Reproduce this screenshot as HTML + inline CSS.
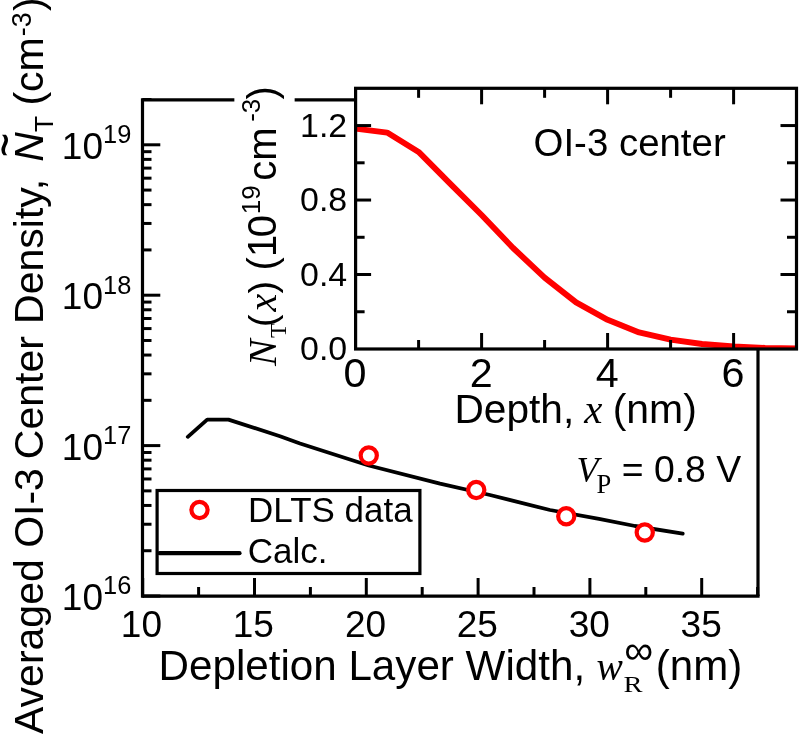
<!DOCTYPE html>
<html><head><meta charset="utf-8"><title>Figure</title>
<style>html,body{margin:0;padding:0;background:#fff}svg{display:block}</style></head>
<body><svg width="799" height="736" viewBox="0 0 799 736">
<rect width="799" height="736" fill="#fff"/>
<line x1="142.50" y1="597.70" x2="142.50" y2="98.20" stroke="#000" stroke-width="3.2" stroke-linecap="butt"/>
<line x1="142.50" y1="596.10" x2="759.60" y2="596.10" stroke="#000" stroke-width="3.2" stroke-linecap="butt"/>
<line x1="758.00" y1="596.10" x2="758.00" y2="340.00" stroke="#000" stroke-width="3.2" stroke-linecap="butt"/>
<line x1="142.50" y1="99.80" x2="234.60" y2="99.80" stroke="#000" stroke-width="3.2" stroke-linecap="butt"/>
<line x1="294.40" y1="99.80" x2="357.00" y2="99.80" stroke="#000" stroke-width="3.2" stroke-linecap="butt"/>
<line x1="142.70" y1="596.10" x2="142.70" y2="578.00" stroke="#000" stroke-width="3.0" stroke-linecap="butt"/>
<line x1="198.60" y1="596.10" x2="198.60" y2="587.00" stroke="#000" stroke-width="3.0" stroke-linecap="butt"/>
<line x1="254.50" y1="596.10" x2="254.50" y2="578.00" stroke="#000" stroke-width="3.0" stroke-linecap="butt"/>
<line x1="310.40" y1="596.10" x2="310.40" y2="587.00" stroke="#000" stroke-width="3.0" stroke-linecap="butt"/>
<line x1="366.30" y1="596.10" x2="366.30" y2="578.00" stroke="#000" stroke-width="3.0" stroke-linecap="butt"/>
<line x1="422.20" y1="596.10" x2="422.20" y2="587.00" stroke="#000" stroke-width="3.0" stroke-linecap="butt"/>
<line x1="478.10" y1="596.10" x2="478.10" y2="578.00" stroke="#000" stroke-width="3.0" stroke-linecap="butt"/>
<line x1="534.00" y1="596.10" x2="534.00" y2="587.00" stroke="#000" stroke-width="3.0" stroke-linecap="butt"/>
<line x1="589.90" y1="596.10" x2="589.90" y2="578.00" stroke="#000" stroke-width="3.0" stroke-linecap="butt"/>
<line x1="645.80" y1="596.10" x2="645.80" y2="587.00" stroke="#000" stroke-width="3.0" stroke-linecap="butt"/>
<line x1="701.70" y1="596.10" x2="701.70" y2="578.00" stroke="#000" stroke-width="3.0" stroke-linecap="butt"/>
<line x1="757.60" y1="596.10" x2="757.60" y2="587.00" stroke="#000" stroke-width="3.0" stroke-linecap="butt"/>
<line x1="142.50" y1="596.00" x2="160.30" y2="596.00" stroke="#000" stroke-width="3.0" stroke-linecap="butt"/>
<line x1="142.50" y1="550.73" x2="151.50" y2="550.73" stroke="#000" stroke-width="3.0" stroke-linecap="butt"/>
<line x1="142.50" y1="524.24" x2="151.50" y2="524.24" stroke="#000" stroke-width="3.0" stroke-linecap="butt"/>
<line x1="142.50" y1="505.45" x2="151.50" y2="505.45" stroke="#000" stroke-width="3.0" stroke-linecap="butt"/>
<line x1="142.50" y1="490.87" x2="151.50" y2="490.87" stroke="#000" stroke-width="3.0" stroke-linecap="butt"/>
<line x1="142.50" y1="478.97" x2="151.50" y2="478.97" stroke="#000" stroke-width="3.0" stroke-linecap="butt"/>
<line x1="142.50" y1="468.90" x2="151.50" y2="468.90" stroke="#000" stroke-width="3.0" stroke-linecap="butt"/>
<line x1="142.50" y1="460.18" x2="151.50" y2="460.18" stroke="#000" stroke-width="3.0" stroke-linecap="butt"/>
<line x1="142.50" y1="452.48" x2="151.50" y2="452.48" stroke="#000" stroke-width="3.0" stroke-linecap="butt"/>
<line x1="142.50" y1="445.60" x2="160.30" y2="445.60" stroke="#000" stroke-width="3.0" stroke-linecap="butt"/>
<line x1="142.50" y1="400.33" x2="151.50" y2="400.33" stroke="#000" stroke-width="3.0" stroke-linecap="butt"/>
<line x1="142.50" y1="373.84" x2="151.50" y2="373.84" stroke="#000" stroke-width="3.0" stroke-linecap="butt"/>
<line x1="142.50" y1="355.05" x2="151.50" y2="355.05" stroke="#000" stroke-width="3.0" stroke-linecap="butt"/>
<line x1="142.50" y1="340.47" x2="151.50" y2="340.47" stroke="#000" stroke-width="3.0" stroke-linecap="butt"/>
<line x1="142.50" y1="328.57" x2="151.50" y2="328.57" stroke="#000" stroke-width="3.0" stroke-linecap="butt"/>
<line x1="142.50" y1="318.50" x2="151.50" y2="318.50" stroke="#000" stroke-width="3.0" stroke-linecap="butt"/>
<line x1="142.50" y1="309.78" x2="151.50" y2="309.78" stroke="#000" stroke-width="3.0" stroke-linecap="butt"/>
<line x1="142.50" y1="302.08" x2="151.50" y2="302.08" stroke="#000" stroke-width="3.0" stroke-linecap="butt"/>
<line x1="142.50" y1="295.20" x2="160.30" y2="295.20" stroke="#000" stroke-width="3.0" stroke-linecap="butt"/>
<line x1="142.50" y1="249.93" x2="151.50" y2="249.93" stroke="#000" stroke-width="3.0" stroke-linecap="butt"/>
<line x1="142.50" y1="223.44" x2="151.50" y2="223.44" stroke="#000" stroke-width="3.0" stroke-linecap="butt"/>
<line x1="142.50" y1="204.65" x2="151.50" y2="204.65" stroke="#000" stroke-width="3.0" stroke-linecap="butt"/>
<line x1="142.50" y1="190.07" x2="151.50" y2="190.07" stroke="#000" stroke-width="3.0" stroke-linecap="butt"/>
<line x1="142.50" y1="178.17" x2="151.50" y2="178.17" stroke="#000" stroke-width="3.0" stroke-linecap="butt"/>
<line x1="142.50" y1="168.10" x2="151.50" y2="168.10" stroke="#000" stroke-width="3.0" stroke-linecap="butt"/>
<line x1="142.50" y1="159.38" x2="151.50" y2="159.38" stroke="#000" stroke-width="3.0" stroke-linecap="butt"/>
<line x1="142.50" y1="151.68" x2="151.50" y2="151.68" stroke="#000" stroke-width="3.0" stroke-linecap="butt"/>
<line x1="142.50" y1="144.80" x2="160.30" y2="144.80" stroke="#000" stroke-width="3.0" stroke-linecap="butt"/>
<line x1="142.50" y1="99.53" x2="151.50" y2="99.53" stroke="#000" stroke-width="3.0" stroke-linecap="butt"/>
<polyline fill="none" stroke="#000" stroke-width="3.8" stroke-linejoin="round" stroke-linecap="round" points="187.8,436.8 207.2,419.6 228.5,419.6 280.0,436.2 300.0,443.5 368.7,465.5 440.0,483.7 490.0,495.0 550.0,510.0 599.0,518.8 635.0,526.0 682.7,533.7"/>
<circle cx="368.75" cy="455.5" r="8.1" fill="#fff" stroke="#f00" stroke-width="4.2"/>
<circle cx="476.25" cy="490" r="8.1" fill="#fff" stroke="#f00" stroke-width="4.2"/>
<circle cx="566.25" cy="516.25" r="8.1" fill="#fff" stroke="#f00" stroke-width="4.2"/>
<circle cx="644.75" cy="532.5" r="8.1" fill="#fff" stroke="#f00" stroke-width="4.2"/>
<rect x="157.1" y="490.5" width="262.8" height="83" fill="#fff" stroke="#000" stroke-width="3.2"/>
<circle cx="199.5" cy="510" r="8.1" fill="#fff" stroke="#f00" stroke-width="4.2"/>
<line x1="159.50" y1="553.20" x2="239.50" y2="553.20" stroke="#000" stroke-width="4.2" stroke-linecap="round"/>
<text x="248.12" y="521.80" font-family='"Liberation Sans", sans-serif' font-size="34.96" text-anchor="start" >DLTS data</text>
<text x="247.75" y="563.10" font-family='"Liberation Sans", sans-serif' font-size="34.99" text-anchor="start" >Calc.</text>
<text x="120.87" y="636.80" font-family='"Liberation Sans", sans-serif' font-size="37.00" text-anchor="start" >10</text>
<text x="232.72" y="636.80" font-family='"Liberation Sans", sans-serif' font-size="37.00" text-anchor="start" >15</text>
<text x="344.93" y="636.80" font-family='"Liberation Sans", sans-serif' font-size="37.00" text-anchor="start" >20</text>
<text x="456.78" y="636.80" font-family='"Liberation Sans", sans-serif' font-size="37.00" text-anchor="start" >25</text>
<text x="568.76" y="636.80" font-family='"Liberation Sans", sans-serif' font-size="37.00" text-anchor="start" >30</text>
<text x="680.61" y="636.80" font-family='"Liberation Sans", sans-serif' font-size="37.00" text-anchor="start" >35</text>
<text x="61.82" y="609.90" font-family='"Liberation Sans", sans-serif' font-size="37.00" text-anchor="start" >10</text>
<text x="103.09" y="594.40" font-family='"Liberation Sans", sans-serif' font-size="25.40" text-anchor="start" >16</text>
<text x="61.82" y="459.50" font-family='"Liberation Sans", sans-serif' font-size="37.00" text-anchor="start" >10</text>
<text x="103.09" y="444.00" font-family='"Liberation Sans", sans-serif' font-size="25.40" text-anchor="start" >17</text>
<text x="61.82" y="309.10" font-family='"Liberation Sans", sans-serif' font-size="37.00" text-anchor="start" >10</text>
<text x="103.09" y="293.60" font-family='"Liberation Sans", sans-serif' font-size="25.40" text-anchor="start" >18</text>
<text x="61.82" y="158.70" font-family='"Liberation Sans", sans-serif' font-size="37.00" text-anchor="start" >10</text>
<text x="103.09" y="143.20" font-family='"Liberation Sans", sans-serif' font-size="25.40" text-anchor="start" >19</text>
<text x="158.52" y="680.30" font-family='"Liberation Sans", sans-serif' font-size="42.18" text-anchor="start" >Depletion Layer Width,</text>
<text x="596.50" y="680.00" font-family='"Liberation Serif", serif' font-size="39.50" text-anchor="start" font-style="italic" >w</text>
<text font-family='"Liberation Serif", serif' font-size="22.5" transform="translate(623.6 692.2) scale(1.27 1)">R</text>
<text x="624.30" y="664.20" font-family='"Liberation Sans", sans-serif' font-size="40.50" text-anchor="start" >∞</text>
<text x="655.87" y="680.30" font-family='"Liberation Sans", sans-serif' font-size="42.07" text-anchor="start" >(nm)</text>
<g transform="translate(43.4 734) rotate(-90)">
<text x="0" y="0" font-family='"Liberation Sans", sans-serif' font-size="41">Averaged OI-3</text>
<text x="274.8" y="0" font-family='"Liberation Sans", sans-serif' font-size="41">Center</text>
<text x="410.1" y="0" font-family='"Liberation Sans", sans-serif' font-size="41">Density,</text>
<text x="572.3" y="0" font-family='"Liberation Sans", sans-serif' font-size="41" font-style="italic">N</text>
<text transform="translate(577 -20.9) scale(1.03 1.35)" font-family='"Liberation Sans", sans-serif' font-size="40">~</text>
<text x="602" y="9.5" font-family='"Liberation Sans", sans-serif' font-size="26.5">T</text>
<text x="628.4" y="0" font-family='"Liberation Sans", sans-serif' font-size="41">(cm</text>
<text x="697.8" y="-12.8" font-family='"Liberation Sans", sans-serif' font-size="27">-3</text>
<text x="723" y="0" font-family='"Liberation Sans", sans-serif' font-size="41">)</text>
</g>
<text x="576.60" y="482.20" font-family='"Liberation Serif", serif' font-size="36.00" text-anchor="start" font-style="italic" >V</text>
<text x="596.50" y="492.80" font-family='"Liberation Serif", serif' font-size="26.50" text-anchor="start" >P</text>
<text x="621.73" y="482.20" font-family='"Liberation Sans", sans-serif' font-size="37.36" text-anchor="start" >= 0.8 V</text>
<rect x="355.6" y="88.3" width="440.9" height="260.7" fill="#fff" stroke="none"/>
<clipPath id="ic"><rect x="355.6" y="88.3" width="440.9" height="260.7"/></clipPath>
<polyline clip-path="url(#ic)" fill="none" stroke="#f00" stroke-width="5.9" stroke-linejoin="round" points="355.6,128.6 387.1,132.6 418.6,151.9 450.1,183.6 481.6,215.0 513.1,248.0 544.6,277.6 576.1,302.4 607.6,319.8 639.1,332.4 670.6,339.7 702.1,344.0 733.6,346.5 765.1,347.9 796.6,348.5"/>
<line x1="418.60" y1="349.00" x2="418.60" y2="340.00" stroke="#000" stroke-width="3.0" stroke-linecap="butt"/>
<line x1="418.60" y1="88.30" x2="418.60" y2="97.80" stroke="#000" stroke-width="3.0" stroke-linecap="butt"/>
<line x1="481.60" y1="349.00" x2="481.60" y2="333.00" stroke="#000" stroke-width="3.0" stroke-linecap="butt"/>
<line x1="481.60" y1="88.30" x2="481.60" y2="104.30" stroke="#000" stroke-width="3.0" stroke-linecap="butt"/>
<line x1="544.60" y1="349.00" x2="544.60" y2="340.00" stroke="#000" stroke-width="3.0" stroke-linecap="butt"/>
<line x1="544.60" y1="88.30" x2="544.60" y2="97.80" stroke="#000" stroke-width="3.0" stroke-linecap="butt"/>
<line x1="607.60" y1="349.00" x2="607.60" y2="333.00" stroke="#000" stroke-width="3.0" stroke-linecap="butt"/>
<line x1="607.60" y1="88.30" x2="607.60" y2="104.30" stroke="#000" stroke-width="3.0" stroke-linecap="butt"/>
<line x1="670.60" y1="349.00" x2="670.60" y2="340.00" stroke="#000" stroke-width="3.0" stroke-linecap="butt"/>
<line x1="670.60" y1="88.30" x2="670.60" y2="97.80" stroke="#000" stroke-width="3.0" stroke-linecap="butt"/>
<line x1="733.60" y1="349.00" x2="733.60" y2="333.00" stroke="#000" stroke-width="3.0" stroke-linecap="butt"/>
<line x1="733.60" y1="88.30" x2="733.60" y2="104.30" stroke="#000" stroke-width="3.0" stroke-linecap="butt"/>
<line x1="355.60" y1="311.76" x2="364.60" y2="311.76" stroke="#000" stroke-width="3.0" stroke-linecap="butt"/>
<line x1="796.50" y1="311.76" x2="787.00" y2="311.76" stroke="#000" stroke-width="3.0" stroke-linecap="butt"/>
<line x1="355.60" y1="274.52" x2="371.10" y2="274.52" stroke="#000" stroke-width="3.0" stroke-linecap="butt"/>
<line x1="796.50" y1="274.52" x2="780.50" y2="274.52" stroke="#000" stroke-width="3.0" stroke-linecap="butt"/>
<line x1="355.60" y1="237.28" x2="364.60" y2="237.28" stroke="#000" stroke-width="3.0" stroke-linecap="butt"/>
<line x1="796.50" y1="237.28" x2="787.00" y2="237.28" stroke="#000" stroke-width="3.0" stroke-linecap="butt"/>
<line x1="355.60" y1="200.04" x2="371.10" y2="200.04" stroke="#000" stroke-width="3.0" stroke-linecap="butt"/>
<line x1="796.50" y1="200.04" x2="780.50" y2="200.04" stroke="#000" stroke-width="3.0" stroke-linecap="butt"/>
<line x1="355.60" y1="162.80" x2="364.60" y2="162.80" stroke="#000" stroke-width="3.0" stroke-linecap="butt"/>
<line x1="796.50" y1="162.80" x2="787.00" y2="162.80" stroke="#000" stroke-width="3.0" stroke-linecap="butt"/>
<line x1="355.60" y1="125.56" x2="371.10" y2="125.56" stroke="#000" stroke-width="3.0" stroke-linecap="butt"/>
<line x1="796.50" y1="125.56" x2="780.50" y2="125.56" stroke="#000" stroke-width="3.0" stroke-linecap="butt"/>
<rect x="355.6" y="88.3" width="440.9" height="260.7" fill="none" stroke="#000" stroke-width="3.2"/>
<text x="347.20" y="360.30" font-family='"Liberation Sans", sans-serif' font-size="33.90" text-anchor="end" >0.0</text>
<text x="347.20" y="285.82" font-family='"Liberation Sans", sans-serif' font-size="33.90" text-anchor="end" >0.4</text>
<text x="347.20" y="211.34" font-family='"Liberation Sans", sans-serif' font-size="33.90" text-anchor="end" >0.8</text>
<text x="347.20" y="136.86" font-family='"Liberation Sans", sans-serif' font-size="33.90" text-anchor="end" >1.2</text>
<text x="343.59" y="387.00" font-family='"Liberation Sans", sans-serif' font-size="41.30" text-anchor="start" >0</text>
<text x="469.64" y="387.00" font-family='"Liberation Sans", sans-serif' font-size="41.30" text-anchor="start" >2</text>
<text x="595.74" y="387.00" font-family='"Liberation Sans", sans-serif' font-size="41.30" text-anchor="start" >4</text>
<text x="721.48" y="387.00" font-family='"Liberation Sans", sans-serif' font-size="41.30" text-anchor="start" >6</text>
<text x="454.55" y="423.20" font-family='"Liberation Sans", sans-serif' font-size="40.61" text-anchor="start" >Depth,</text>
<text x="584.20" y="423.20" font-family='"Liberation Serif", serif' font-size="41.00" text-anchor="start" font-style="italic" >x</text>
<text x="612.64" y="423.20" font-family='"Liberation Sans", sans-serif' font-size="40.98" text-anchor="start" >(nm)</text>
<text x="533.57" y="155.60" font-family='"Liberation Sans", sans-serif' font-size="38.42" text-anchor="start" >OI-3 center</text>
<rect x="234.6" y="88" width="59.8" height="285" fill="#fff"/>
<g transform="translate(275.6 366.4) rotate(-90)">
<text x="0.5" y="0.5" font-family='"Liberation Serif", serif' font-size="40" font-style="italic">N</text>
<text x="28.4" y="10.5" font-family='"Liberation Serif", serif' font-size="24">T</text>
<text x="39.5" y="-0.8" font-family='"Liberation Sans", sans-serif' font-size="37.5">(</text>
<text x="55" y="0.5" font-family='"Liberation Serif", serif' font-size="40" font-style="italic">x</text>
<text x="73" y="-0.8" font-family='"Liberation Sans", sans-serif' font-size="37.5">)</text>
<text x="96" y="0" font-family='"Liberation Sans", sans-serif' font-size="40">(1</text>
<text x="129.2" y="0" font-family='"Liberation Sans", sans-serif' font-size="40">0</text>
<text x="152.2" y="-15.6" font-family='"Liberation Sans", sans-serif' font-size="26">19</text>
<text x="185.6" y="0" font-family='"Liberation Sans", sans-serif' font-size="40">cm</text>
<text x="244.6" y="-15.6" font-family='"Liberation Sans", sans-serif' font-size="26">-3</text>
<text x="266.8" y="0" font-family='"Liberation Sans", sans-serif' font-size="40">)</text>
</g>
</svg></body></html>
